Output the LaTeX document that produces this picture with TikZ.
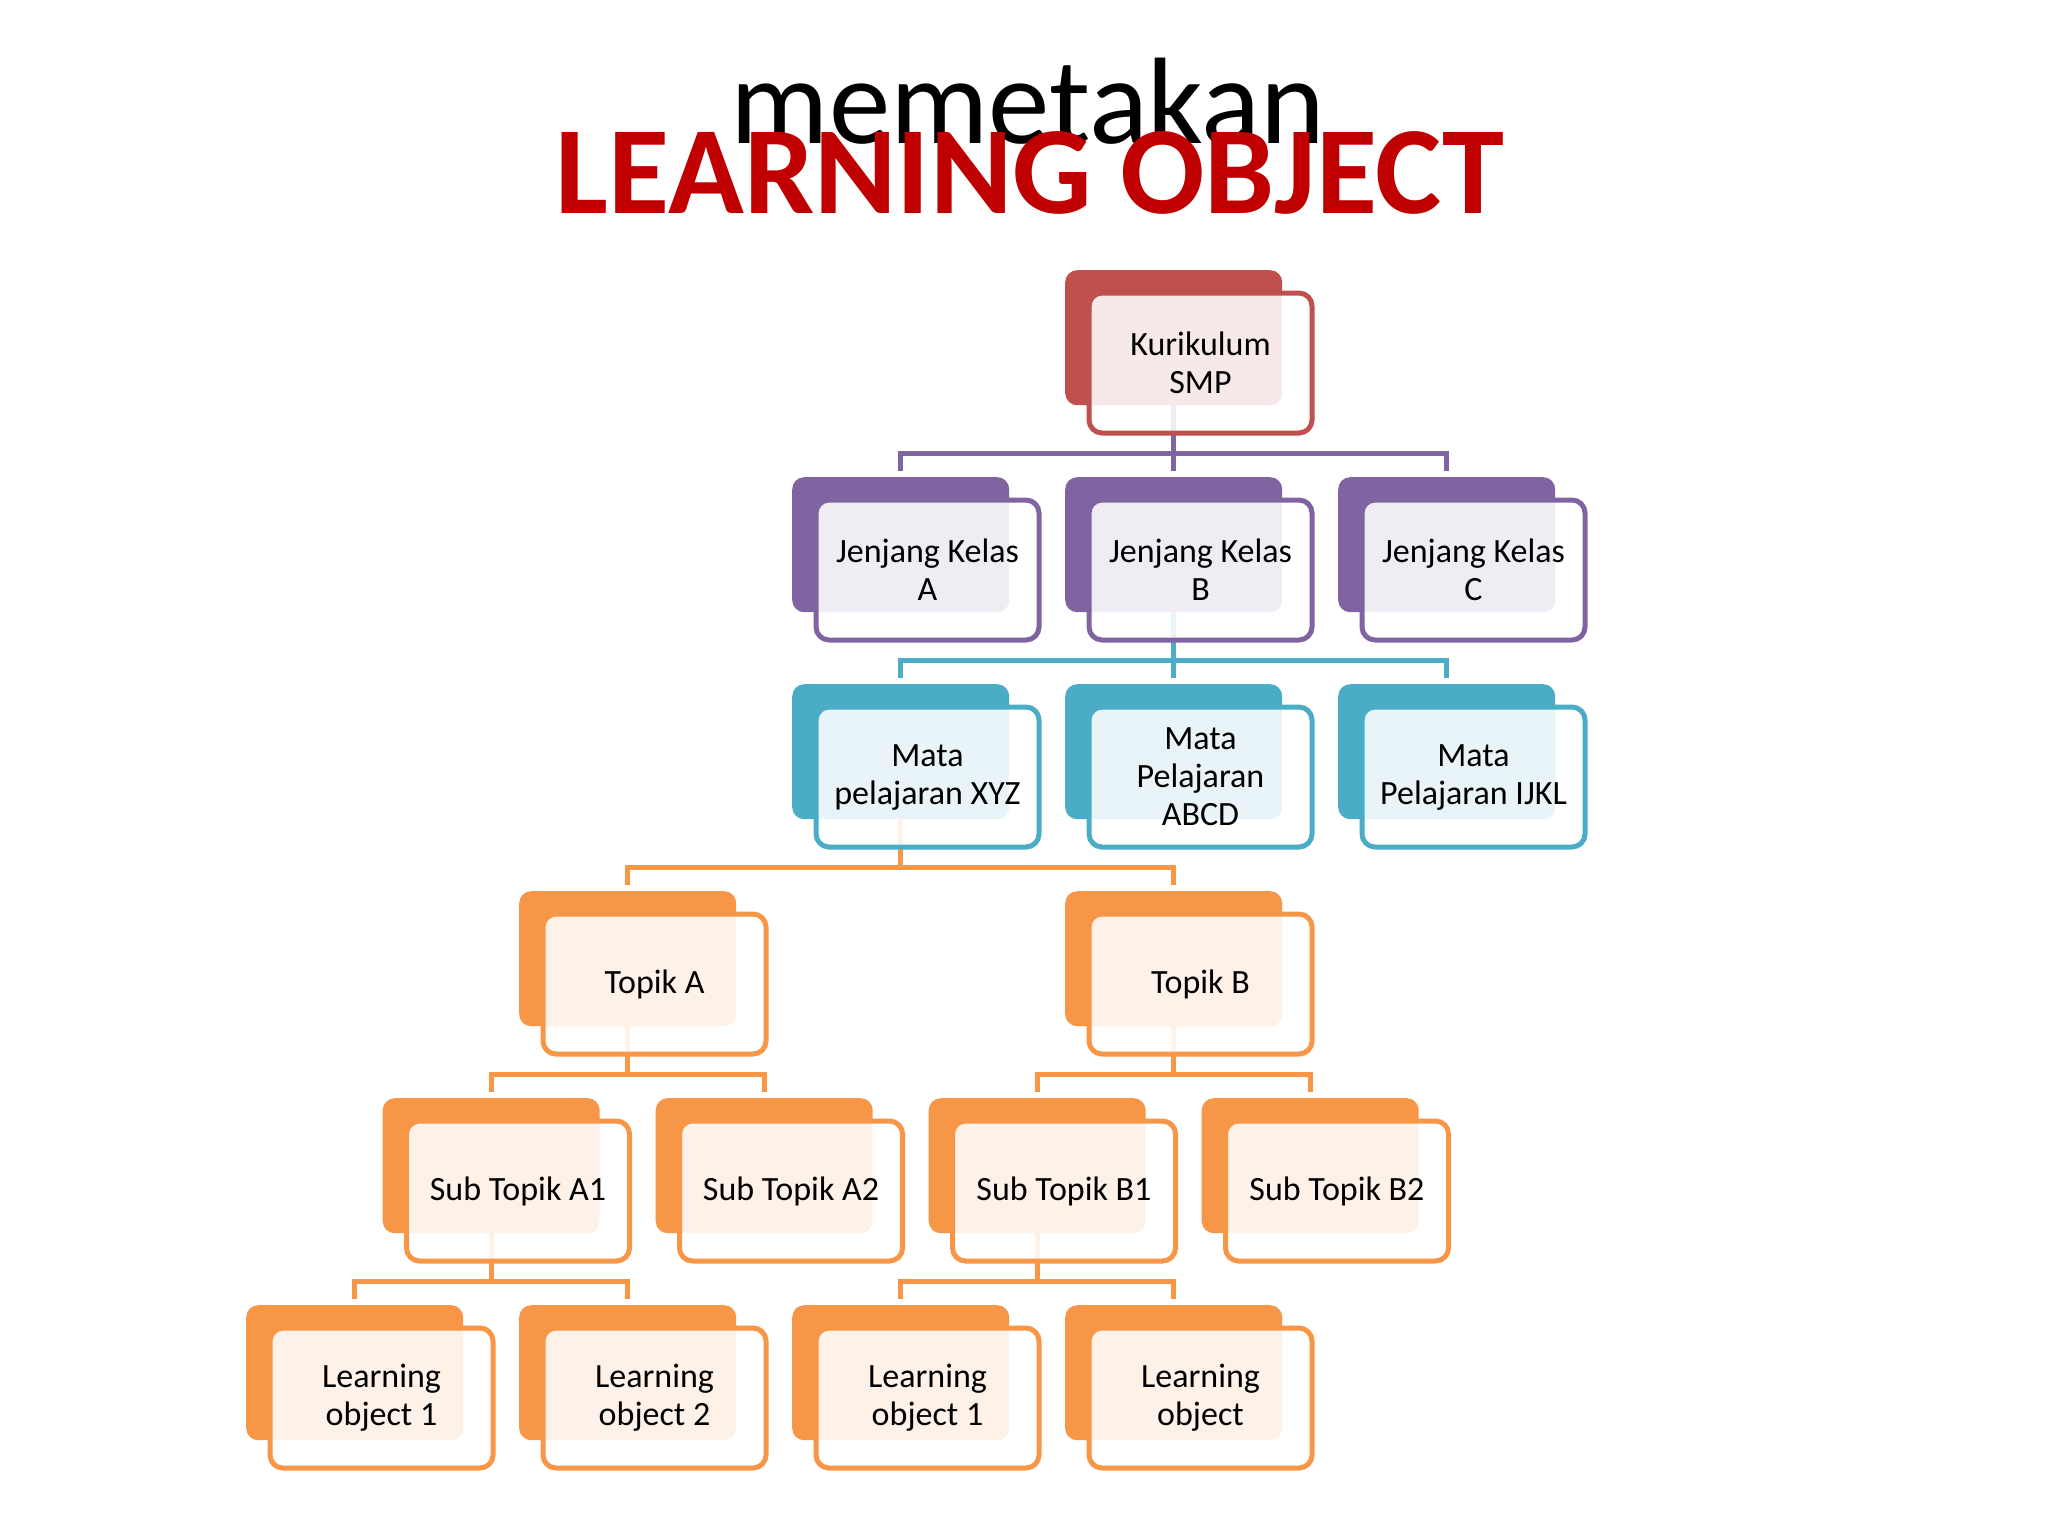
\documentclass[tikz,border=0pt]{standalone}
\usepackage{fontspec}
\setmainfont{Carlito}
\definecolor{kred}{HTML}{C0504D}
\definecolor{kpurple}{HTML}{8064A2}
\definecolor{kaqua}{HTML}{4BACC6}
\definecolor{korange}{HTML}{F79646}
\definecolor{ttlred}{HTML}{C00000}
\begin{document}
\begin{tikzpicture}[x=1pt,y=-1pt,line join=miter,
	backbox/.style={anchor=north west,inner sep=0pt,minimum width=217pt,minimum height=135pt,rounded corners=12pt},
	frontbox/.style={anchor=north west,inner sep=0pt,minimum width=223pt,minimum height=140pt,rounded corners=13pt,line width=5pt,fill=white,fill opacity=0.88,text opacity=1,align=center,font=\fontsize{34}{38}\selectfont},
	conn/.style={line width=5pt,shorten >=6pt}]
	\def\dx{136.5} \def\dy{207}
	\def\boxlist{k/6/0/kred/{Kurikulum\\SMP},
		ja/4/1/kpurple/{Jenjang Kelas\\A}, jb/6/1/kpurple/{Jenjang Kelas\\B}, jc/8/1/kpurple/{Jenjang Kelas\\C},
		mx/4/2/kaqua/{Mata\\pelajaran XYZ}, ma/6/2/kaqua/{Mata\\Pelajaran\\ABCD}, mi/8/2/kaqua/{Mata\\Pelajaran IJKL},
		ta/2/3/korange/{Topik A}, tb/6/3/korange/{Topik B},
		sa1/1/4/korange/{Sub Topik A1}, sa2/3/4/korange/{Sub Topik A2}, sb1/5/4/korange/{Sub Topik B1}, sb2/7/4/korange/{Sub Topik B2},
		la1/0/5/korange/{Learning\\object 1}, la2/2/5/korange/{Learning\\object 2}, lb1/4/5/korange/{Learning\\object 1}, lb2/6/5/korange/{Learning\\object}}
	\fill[white] (0,0) rectangle (2048,1536);
	\useasboundingbox (0,0) rectangle (2048,1536);
	\node[anchor=base,font=\fontsize{123}{140}\selectfont] (ttl1) at (1028,143) {memetakan};
	\node[anchor=base,text=ttlred,font=\bfseries\fontsize{125}{140}\selectfont] (ttl2) at (1030,213) {LEARNING OBJECT};
	\foreach \nm/\c/\r/\col/\txt in \boxlist
		{\node[backbox,fill=\col] (\nm) at ({246+\c*\dx},{270+\r*\dy}) {};}
	\foreach \p/\ch/\col in {k/ja/kpurple,k/jb/kpurple,k/jc/kpurple,jb/mx/kaqua,jb/ma/kaqua,jb/mi/kaqua,
		mx/ta/korange,mx/tb/korange,ta/sa1/korange,ta/sa2/korange,tb/sb1/korange,tb/sb2/korange,
		sa1/la1/korange,sa1/la2/korange,sb1/lb1/korange,sb1/lb2/korange}
		{\draw[conn,\col] (\p.south) -- ++(0,48) -| (\ch.north);}
	\foreach \nm/\c/\r/\col/\txt in \boxlist
		{\node[frontbox,draw=\col] (\nm-f) at ({267.5+\c*\dx},{290.5+\r*\dy}) {\txt};}
\end{tikzpicture}
\end{document}
